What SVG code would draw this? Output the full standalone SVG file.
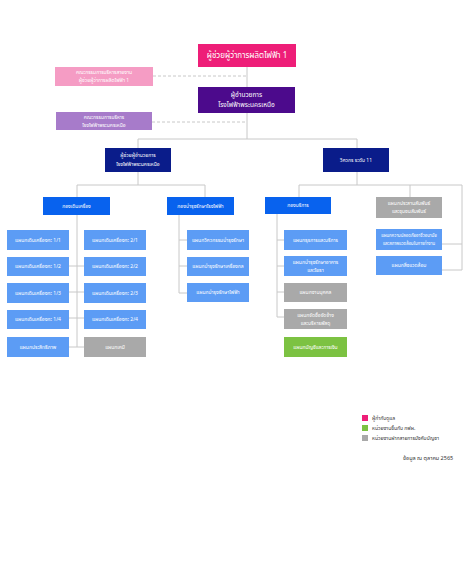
<svg xmlns="http://www.w3.org/2000/svg" width="474" height="568" viewBox="0 0 474 568">
<style>
text{font-family:"Noto Sans Thai","Noto Sans","DejaVu Sans",sans-serif;fill:#fff;text-anchor:middle;dominant-baseline:central}
.s{font-size:5px}
.m{font-size:6.5px}
.l{font-size:8px}
.ln{stroke:#c8c8c8;stroke-width:1;fill:none}
.dl{stroke:#c8c8c8;stroke-width:1;fill:none;stroke-dasharray:3 2}
.pink{fill:#ee1e78}.lpink{fill:#f59cc4}.dpur{fill:#4c0a8c}.lpur{fill:#a77bca}
.navy{fill:#0a1c8a}.blue{fill:#0862ee}.lblue{fill:#5c9cf5}.grey{fill:#a9a9a9}.green{fill:#7cc242}
.lg{fill:#333;text-anchor:start;font-size:5px}
</style>
<rect width="474" height="568" fill="#fff"/>
<g id="connectors">
<path class="ln" d="M247 67V139M138 139H357M138 139V148M357 139V148"/>
<path class="dl" d="M153 76H247M152 122H247"/>
<path class="ln" d="M138 172V185M77 185H205M77 185V197M205 185V197"/>
<path class="ln" d="M357 172V185M299 185H462M299 185V197M410 185V197M462 185V270M442 244H462M442 270H462"/>
<path class="ln" d="M77 215V347M69 266H84M69 292H84M69 318H84M69 347H84"/>
<path class="ln" d="M179 215V293M179 240H187M179 266H187M179 293H187"/>
<path class="ln" d="M277 214V317M277 240H284M277 266H284M277 292H284M277 317H284"/>
</g>
<g id="n-top"><rect class="pink" x="198" y="44" width="98" height="23"/><text class="l" x="247" y="55.5">ผู้ช่วยผู้ว่าการผลิตไฟฟ้า 1</text></g>
<g id="n-board1"><rect class="lpink" x="55" y="67" width="98" height="19"/><text class="s" x="104" y="72">คณะกรรมการบริหารสายงาน</text><text class="s" x="104" y="80.5">ผู้ช่วยผู้ว่าการผลิตไฟฟ้า 1</text></g>
<g id="n-dir"><rect class="dpur" x="198" y="87" width="97" height="26"/><text class="m" x="246.5" y="95">ผู้อำนวยการ</text><text class="m" x="246.5" y="105">โรงไฟฟ้าพระนครเหนือ</text></g>
<g id="n-board2"><rect class="lpur" x="56" y="112" width="96" height="18"/><text class="s" x="104" y="117">คณะกรรมการบริหาร</text><text class="s" x="104" y="125.5">โรงไฟฟ้าพระนครเหนือ</text></g>
<g id="n-adir"><rect class="navy" x="105" y="148" width="66" height="24"/><text class="s" x="138" y="155">ผู้ช่วยผู้อำนวยการ</text><text class="s" x="138" y="164.5">โรงไฟฟ้าพระนครเหนือ</text></g>
<g id="n-eng"><rect class="navy" x="323" y="148" width="66" height="24"/><text class="s" x="356" y="160">วิศวกร ระดับ 11</text></g>
<g id="n-op"><rect class="blue" x="43" y="197" width="67" height="18"/><text class="s" x="76.5" y="206">กองเดินเครื่อง</text></g>
<g id="n-mt"><rect class="blue" x="167" y="197" width="67" height="18"/><text class="s" x="200.5" y="206">กองบำรุงรักษาโรงไฟฟ้า</text></g>
<g id="n-sv"><rect class="blue" x="265" y="197" width="66" height="17"/><text class="s" x="298" y="205.5">กองบริการ</text></g>
<g id="n-pr"><rect class="grey" x="376" y="197" width="66" height="21"/><text class="s" x="409" y="203.5">แผนกประสานสัมพันธ์</text><text class="s" x="409" y="211.5">และชุมชนสัมพันธ์</text></g>
<g id="n-safe"><rect class="lblue" x="376" y="229" width="66" height="21"/><text class="s" x="409" y="235.5" style="font-size:4.3px">แผนกความปลอดภัยอาชีวอนามัย</text><text class="s" x="409" y="243.5" style="font-size:4.3px">และสภาพแวดล้อมในการทำงาน</text></g>
<g id="n-env"><rect class="lblue" x="376" y="256" width="66" height="19"/><text class="s" x="409" y="265.5">แผนกสิ่งแวดล้อม</text></g>
<g id="n-op11"><rect class="lblue" x="7" y="230" width="62" height="20"/><text class="s" x="38" y="240">แผนกเดินเครื่องกะ 1/1</text></g>
<g id="n-op12"><rect class="lblue" x="7" y="257" width="62" height="19"/><text class="s" x="38" y="266.5">แผนกเดินเครื่องกะ 1/2</text></g>
<g id="n-op13"><rect class="lblue" x="7" y="283" width="62" height="20"/><text class="s" x="38" y="293">แผนกเดินเครื่องกะ 1/3</text></g>
<g id="n-op14"><rect class="lblue" x="7" y="310" width="62" height="19"/><text class="s" x="38" y="319.5">แผนกเดินเครื่องกะ 1/4</text></g>
<g id="n-eff"><rect class="lblue" x="7" y="337" width="62" height="20"/><text class="s" x="38" y="347">แผนกประสิทธิภาพ</text></g>
<g id="n-op21"><rect class="lblue" x="84" y="230" width="62" height="20"/><text class="s" x="115" y="240">แผนกเดินเครื่องกะ 2/1</text></g>
<g id="n-op22"><rect class="lblue" x="84" y="257" width="62" height="19"/><text class="s" x="115" y="266.5">แผนกเดินเครื่องกะ 2/2</text></g>
<g id="n-op23"><rect class="lblue" x="84" y="283" width="62" height="20"/><text class="s" x="115" y="293">แผนกเดินเครื่องกะ 2/3</text></g>
<g id="n-op24"><rect class="lblue" x="84" y="310" width="62" height="19"/><text class="s" x="115" y="319.5">แผนกเดินเครื่องกะ 2/4</text></g>
<g id="n-chem"><rect class="grey" x="84" y="337" width="62" height="20"/><text class="s" x="115" y="347">แผนกเคมี</text></g>
<g id="n-me"><rect class="lblue" x="187" y="230" width="62" height="20"/><text class="s" x="218" y="240">แผนกวิศวกรรมบำรุงรักษา</text></g>
<g id="n-mm"><rect class="lblue" x="187" y="257" width="62" height="19"/><text class="s" x="218" y="266.5">แผนกบำรุงรักษาเครื่องกล</text></g>
<g id="n-mel"><rect class="lblue" x="187" y="283" width="62" height="19"/><text class="s" x="218" y="292.5">แผนกบำรุงรักษาไฟฟ้า</text></g>
<g id="n-adm"><rect class="lblue" x="284" y="230" width="63" height="20"/><text class="s" x="315.5" y="240">แผนกธุรการและบริการ</text></g>
<g id="n-bld"><rect class="lblue" x="284" y="256" width="63" height="20"/><text class="s" x="315.5" y="262.5">แผนกบำรุงรักษาอาคาร</text><text class="s" x="315.5" y="270.5">และโยธา</text></g>
<g id="n-hr"><rect class="grey" x="284" y="283" width="63" height="19"/><text class="s" x="315.5" y="292.5">แผนกงานบุคคล</text></g>
<g id="n-proc"><rect class="grey" x="284" y="309" width="63" height="20"/><text class="s" x="315.5" y="315.5">แผนกจัดซื้อจัดจ้าง</text><text class="s" x="315.5" y="323.5">และบริหารพัสดุ</text></g>
<g id="n-acc"><rect class="green" x="284" y="337" width="63" height="20"/><text class="s" x="315.5" y="347">แผนกบัญชีและการเงิน</text></g>
<g id="legend">
<rect class="pink" x="362" y="415" width="6" height="6"/><text class="lg" x="372" y="418">ผู้กำกับดูแล</text>
<rect class="green" x="362" y="425" width="6" height="6"/><text class="lg" x="372" y="428">หน่วยงานขึ้นกับ กฟผ.</text>
<rect class="grey" x="362" y="435" width="6" height="6"/><text class="lg" x="372" y="438">หน่วยงานฝากสายการบังคับบัญชา</text>
<text class="lg" x="403" y="458" style="font-size:5.5px">ข้อมูล ณ ตุลาคม 2565</text>
</g>
</svg>
